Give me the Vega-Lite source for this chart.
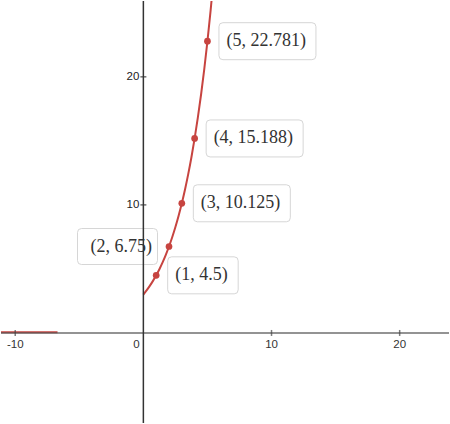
{
  "$schema": "https://vega.github.io/schema/vega-lite/v6.json",
  "width": 450,
  "height": 424,
  "autosize": {"type": "fit", "contains": "padding"},
  "padding": 0,
  "background": "white",
  "config": {"view": {"stroke": null}},
  "datasets": {
    "curve": [
      {"seg": "a", "x": -11.2, "y": 0.05}, {"seg": "a", "x": -9, "y": 0.05}, {"seg": "a", "x": -6.7, "y": 0.05},
      {"seg": "b", "x": 0, "y": 3},
      {"seg": "b", "x": 0.25, "y": 3.32}, {"seg": "b", "x": 0.5, "y": 3.674}, {"seg": "b", "x": 0.75, "y": 4.066},
      {"seg": "b", "x": 1, "y": 4.5}, {"seg": "b", "x": 1.25, "y": 4.98}, {"seg": "b", "x": 1.5, "y": 5.511},
      {"seg": "b", "x": 1.75, "y": 6.099}, {"seg": "b", "x": 2, "y": 6.75}, {"seg": "b", "x": 2.25, "y": 7.47},
      {"seg": "b", "x": 2.5, "y": 8.267}, {"seg": "b", "x": 2.75, "y": 9.149}, {"seg": "b", "x": 3, "y": 10.125},
      {"seg": "b", "x": 3.25, "y": 11.205}, {"seg": "b", "x": 3.5, "y": 12.4}, {"seg": "b", "x": 3.75, "y": 13.723},
      {"seg": "b", "x": 4, "y": 15.1875}, {"seg": "b", "x": 4.25, "y": 16.808}, {"seg": "b", "x": 4.5, "y": 18.6},
      {"seg": "b", "x": 4.75, "y": 20.585}, {"seg": "b", "x": 5, "y": 22.781}, {"seg": "b", "x": 5.25, "y": 25.21},
      {"seg": "b", "x": 5.5, "y": 27.9}
    ],
    "pts": [
      {"x": 1, "y": 4.5, "label": "(1, 4.5)", "side": "right"},
      {"x": 2, "y": 6.75, "label": "(2, 6.75)", "side": "left"},
      {"x": 3, "y": 10.125, "label": "(3, 10.125)", "side": "right"},
      {"x": 4, "y": 15.188, "label": "(4, 15.188)", "side": "right"},
      {"x": 5, "y": 22.781, "label": "(5, 22.781)", "side": "right"}
    ],
    "xticks": [{"v": -10, "t": "-10"}, {"v": 10, "t": "10"}, {"v": 20, "t": "20"}],
    "yticks": [{"v": 10, "t": "10"}, {"v": 20, "t": "20"}],
    "origin": [{"v": 0, "t": "0"}]
  },
  "layer": [
    {
      "data": {"name": "curve"},
      "mark": {"type": "line", "color": "#c74440", "strokeWidth": 2, "clip": true, "interpolate": "monotone"},
      "encoding": {
        "x": {"field": "x", "type": "quantitative", "scale": {"domain": [-11.11, 23.85], "nice": false, "zero": false}, "axis": null},
        "y": {"field": "y", "type": "quantitative", "scale": {"domain": [-7.03, 25.92], "nice": false, "zero": false}, "axis": null},
        "detail": {"field": "seg"}
      }
    },
    {
      "data": {"name": "origin"},
      "mark": {"type": "rule", "color": "#555", "strokeWidth": 1.5, "opacity": 0.85},
      "encoding": {
        "y": {"field": "v", "type": "quantitative", "scale": {"domain": [-7.03, 25.92], "nice": false, "zero": false}, "axis": null}
      }
    },
    {
      "data": {"name": "pts"},
      "mark": {"type": "circle", "color": "#c74440", "opacity": 1, "size": 45},
      "encoding": {
        "x": {"field": "x", "type": "quantitative", "scale": {"domain": [-11.11, 23.85], "nice": false, "zero": false}, "axis": null},
        "y": {"field": "y", "type": "quantitative", "scale": {"domain": [-7.03, 25.92], "nice": false, "zero": false}, "axis": null}
      }
    },
    {
      "data": {"name": "pts"},
      "mark": {"type": "point", "filled": false, "fill": "white", "fillOpacity": 1, "stroke": "#d6d6d6", "strokeWidth": 1, "opacity": 1, "size": 10000},
      "encoding": {
        "x": {"field": "x", "type": "quantitative", "scale": {"domain": [-11.11, 23.85], "nice": false, "zero": false}, "axis": null},
        "y": {"field": "y", "type": "quantitative", "scale": {"domain": [-7.03, 25.92], "nice": false, "zero": false}, "axis": null},
        "shape": {
          "field": "label",
          "type": "nominal",
          "legend": null,
          "scale": {
            "domain": ["(1, 4.5)", "(2, 6.75)", "(3, 10.125)", "(4, 15.188)", "(5, 22.781)"],
            "range": [
              "M0.31,-0.37H1.56Q1.64,-0.37 1.64,-0.29V0.29Q1.64,0.37 1.56,0.37H0.31Q0.23,0.37 0.23,0.29V-0.29Q0.23,-0.37 0.31,-0.37Z",
              "M-1.75,-0.36H-0.31Q-0.23,-0.36 -0.23,-0.28V0.28Q-0.23,0.36 -0.31,0.36H-1.75Q-1.83,0.36 -1.83,0.28V-0.28Q-1.83,-0.36 -1.75,-0.36Z",
              "M0.31,-0.37H2.09Q2.17,-0.37 2.17,-0.29V0.29Q2.17,0.37 2.09,0.37H0.31Q0.23,0.37 0.23,0.29V-0.29Q0.23,-0.37 0.31,-0.37Z",
              "M0.31,-0.37H2.09Q2.17,-0.37 2.17,-0.29V0.29Q2.17,0.37 2.09,0.37H0.31Q0.23,0.37 0.23,0.29V-0.29Q0.23,-0.37 0.31,-0.37Z",
              "M0.31,-0.37H2.09Q2.17,-0.37 2.17,-0.29V0.29Q2.17,0.37 2.09,0.37H0.31Q0.23,0.37 0.23,0.29V-0.29Q0.23,-0.37 0.31,-0.37Z"
            ]
          }
        }
      }
    },
    {
      "data": {"name": "origin"},
      "mark": {"type": "rule", "color": "#333", "strokeWidth": 1.5},
      "encoding": {
        "x": {"field": "v", "type": "quantitative", "scale": {"domain": [-11.11, 23.85], "nice": false, "zero": false}, "axis": null}
      }
    },
    {
      "data": {"name": "xticks"},
      "mark": {"type": "tick", "color": "#444", "thickness": 1.5, "size": 6, "orient": "vertical"},
      "encoding": {
        "x": {"field": "v", "type": "quantitative", "scale": {"domain": [-11.11, 23.85], "nice": false, "zero": false}, "axis": null},
        "y": {"datum": 0, "type": "quantitative", "scale": {"domain": [-7.03, 25.92], "nice": false, "zero": false}, "axis": null}
      }
    },
    {
      "data": {"name": "xticks"},
      "mark": {"type": "text", "font": "Liberation Sans", "fontSize": 11.5, "color": "#333", "dy": 12},
      "encoding": {
        "x": {"field": "v", "type": "quantitative", "scale": {"domain": [-11.11, 23.85], "nice": false, "zero": false}, "axis": null},
        "y": {"datum": 0, "type": "quantitative", "scale": {"domain": [-7.03, 25.92], "nice": false, "zero": false}, "axis": null},
        "text": {"field": "t"}
      }
    },
    {
      "data": {"name": "origin"},
      "mark": {"type": "text", "font": "Liberation Sans", "fontSize": 11.5, "color": "#333", "dy": 12, "dx": -7},
      "encoding": {
        "x": {"field": "v", "type": "quantitative", "scale": {"domain": [-11.11, 23.85], "nice": false, "zero": false}, "axis": null},
        "y": {"field": "v", "type": "quantitative", "scale": {"domain": [-7.03, 25.92], "nice": false, "zero": false}, "axis": null},
        "text": {"field": "t"}
      }
    },
    {
      "data": {"name": "yticks"},
      "mark": {"type": "tick", "color": "#333", "thickness": 1.5, "size": 6, "orient": "horizontal"},
      "encoding": {
        "y": {"field": "v", "type": "quantitative", "scale": {"domain": [-7.03, 25.92], "nice": false, "zero": false}, "axis": null},
        "x": {"datum": 0, "type": "quantitative", "scale": {"domain": [-11.11, 23.85], "nice": false, "zero": false}, "axis": null}
      }
    },
    {
      "data": {"name": "yticks"},
      "mark": {"type": "text", "font": "Liberation Sans", "fontSize": 11.5, "color": "#222", "align": "right", "baseline": "middle", "dx": -4},
      "encoding": {
        "y": {"field": "v", "type": "quantitative", "scale": {"domain": [-7.03, 25.92], "nice": false, "zero": false}, "axis": null},
        "x": {"datum": 0, "type": "quantitative", "scale": {"domain": [-11.11, 23.85], "nice": false, "zero": false}, "axis": null},
        "text": {"field": "t"}
      }
    },
    {
      "data": {"name": "pts"},
      "transform": [{"filter": "datum.side == 'right'"}],
      "mark": {"type": "text", "font": "Liberation Serif", "fontSize": 18, "color": "#333", "align": "left", "baseline": "middle", "dx": 19},
      "encoding": {
        "x": {"field": "x", "type": "quantitative", "scale": {"domain": [-11.11, 23.85], "nice": false, "zero": false}, "axis": null},
        "y": {"field": "y", "type": "quantitative", "scale": {"domain": [-7.03, 25.92], "nice": false, "zero": false}, "axis": null},
        "text": {"field": "label"}
      }
    },
    {
      "data": {"name": "pts"},
      "transform": [{"filter": "datum.side == 'left'"}],
      "mark": {"type": "text", "font": "Liberation Serif", "fontSize": 18, "color": "#333", "align": "right", "baseline": "middle", "dx": -17},
      "encoding": {
        "x": {"field": "x", "type": "quantitative", "scale": {"domain": [-11.11, 23.85], "nice": false, "zero": false}, "axis": null},
        "y": {"field": "y", "type": "quantitative", "scale": {"domain": [-7.03, 25.92], "nice": false, "zero": false}, "axis": null},
        "text": {"field": "label"}
      }
    }
  ]
}
